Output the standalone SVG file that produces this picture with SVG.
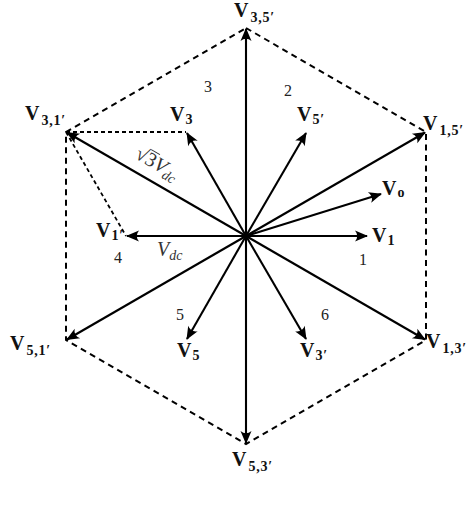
<svg xmlns="http://www.w3.org/2000/svg" width="474" height="505" viewBox="0 0 474 505">
<style>
.hex{fill:none;stroke:#000;stroke-width:2;stroke-dasharray:6 4.5}
.dsh{fill:none;stroke:#000;stroke-width:1.8;stroke-dasharray:4 3}
.arr{fill:none;stroke:#000;stroke-width:2.1;marker-end:url(#ah)}
.lb{font-family:"Liberation Serif",serif;font-weight:bold;font-size:20px;fill:#111}
.sub{font-size:14px;letter-spacing:0.8px}
.num{font-family:"Liberation Serif",serif;font-size:16px;fill:#222}
.it{font-family:"Liberation Serif",serif;font-style:italic;font-size:20px;fill:#333}
</style>
<defs>
<marker id="ah" markerUnits="userSpaceOnUse" markerWidth="14" markerHeight="12" refX="12" refY="6" orient="auto" overflow="visible">
<path d="M13,6 L0,0.5 Q4.5,6 0,11.5 Z" fill="#000"/>
</marker>
</defs>
<rect width="474" height="505" fill="#fff"/>
<g id="connectors">
<polygon class="hex" points="246,28 426,132 426,340 246,444 66,340 66,132"/>
<line class="dsh" x1="66" y1="132" x2="186" y2="132"/>
<line class="dsh" x1="66" y1="132" x2="126" y2="236"/>
<line class="arr" x1="246" y1="236" x2="246" y2="29"/>
<line class="arr" x1="246" y1="236" x2="425" y2="132.5"/>
<line class="arr" x1="246" y1="236" x2="425" y2="339.5"/>
<line class="arr" x1="246" y1="236" x2="246" y2="443"/>
<line class="arr" x1="246" y1="236" x2="67" y2="339.5"/>
<line class="arr" x1="246" y1="236" x2="67" y2="132.5"/>
<line class="arr" x1="246" y1="236" x2="367" y2="236"/>
<line class="arr" x1="246" y1="236" x2="127" y2="236"/>
<line class="arr" x1="246" y1="236" x2="187" y2="133"/>
<line class="arr" x1="246" y1="236" x2="306" y2="133"/>
<line class="arr" x1="246" y1="236" x2="187" y2="339"/>
<line class="arr" x1="246" y1="236" x2="306" y2="339"/>
<line class="arr" x1="246" y1="236" x2="381" y2="194"/>
<circle cx="246" cy="236" r="3" fill="#000"/>
</g>
<g id="n-v35"><text class="lb" x="234" y="17">V<tspan class="sub" dx="2" dy="5">3,5′</tspan></text></g>
<g id="n-v15"><text class="lb" x="423" y="130">V<tspan class="sub" dx="2" dy="5">1,5′</tspan></text></g>
<g id="n-v13"><text class="lb" x="426" y="348">V<tspan class="sub" dx="2" dy="5">1,3′</tspan></text></g>
<g id="n-v53"><text class="lb" x="232" y="466">V<tspan class="sub" dx="2" dy="5">5,3′</tspan></text></g>
<g id="n-v51"><text class="lb" x="10" y="350">V<tspan class="sub" dx="2" dy="5">5,1′</tspan></text></g>
<g id="n-v31"><text class="lb" x="25" y="120">V<tspan class="sub" dx="2" dy="5">3,1′</tspan></text></g>
<g id="n-v3"><text class="lb" x="170" y="121">V<tspan class="sub" dx="1" dy="3">3</tspan></text></g>
<g id="n-v5p"><text class="lb" x="297" y="121">V<tspan class="sub" dx="1" dy="3">5′</tspan></text></g>
<g id="n-vo"><text class="lb" x="382" y="195">V<tspan class="sub" dx="1" dy="2">o</tspan></text></g>
<g id="n-v1"><text class="lb" x="372" y="242">V<tspan class="sub" dx="1" dy="3">1</tspan></text></g>
<g id="n-v1p"><text class="lb" x="96" y="237">V<tspan class="sub" dx="1" dy="3">1′</tspan></text></g>
<g id="n-v5"><text class="lb" x="177" y="357">V<tspan class="sub" dx="1" dy="3">5</tspan></text></g>
<g id="n-v3p"><text class="lb" x="300" y="357">V<tspan class="sub" dx="1" dy="3">3′</tspan></text></g>
<g id="sectors">
<text class="num" x="204" y="92">3</text>
<text class="num" x="284" y="96">2</text>
<text class="num" x="359" y="265">1</text>
<text class="num" x="114" y="263">4</text>
<text class="num" x="176" y="320">5</text>
<text class="num" x="321" y="320">6</text>
</g>
<g id="lbl-sqrt3" transform="translate(134,157.5) rotate(30)">
<text class="it" x="0" y="0"><tspan font-style="normal">√3</tspan>V<tspan font-size="14" dy="4">dc</tspan></text>
<line x1="11" y1="-15.5" x2="21" y2="-15.5" stroke="#333" stroke-width="1"/>
</g>
<g id="lbl-vdc"><text class="it" x="157" y="256">V<tspan font-size="14" dy="4">dc</tspan></text></g>
</svg>
